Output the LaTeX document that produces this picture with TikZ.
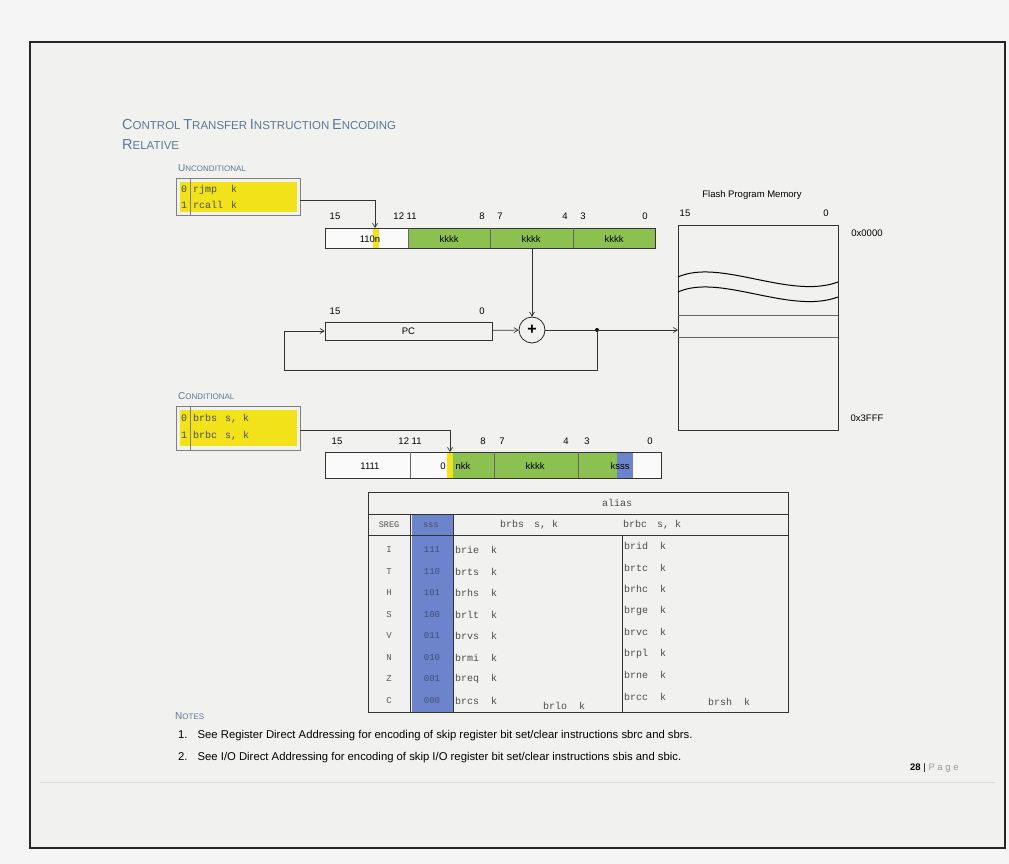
\documentclass[tikz,border=0pt]{standalone}
\usepackage{fontspec}
\setmainfont{Liberation Sans}
\newfontfamily\mono{Liberation Mono}
\usetikzlibrary{arrows.meta}
\definecolor{ttl}{HTML}{5A7896}
\definecolor{grn}{HTML}{8CC152}
\definecolor{ylw}{HTML}{F2E21A}
\definecolor{blu}{HTML}{6C84CC}
\definecolor{pg}{HTML}{F1F2F0}
\newcommand{\fsc}[2]{{\fontsize{14.5}{16}\selectfont #1}{\fontsize{11.5}{13}\selectfont #2}}
\newcommand{\ssc}[2]{{\fontsize{10}{11}\selectfont #1}{\fontsize{8}{9}\selectfont #2}}
\begin{document}
\begin{tikzpicture}[x=1pt,y=-1pt,
  lbl/.style={font=\fontsize{9.5}{11}\selectfont, inner sep=0pt},
  bx/.style={draw=black!80, line width=0.8pt},
  tx/.style={font=\mono\fontsize{10}{11}\selectfont, inner sep=0pt, anchor=west, text=black!70},
  ar/.style={-{Straight Barb[length=4pt,width=5pt]}, line width=0.7pt, draw=black!80}]
\useasboundingbox (0,0) rectangle (1009,864);
\fill[white!92!gray] (0,0) rectangle (1009,864);
\fill[pg] (30,42) rectangle (1005,848);
\draw[black!85, line width=1.5pt] (30,42) rectangle (1005,848);
% titles
\node[anchor=west,text=ttl,inner sep=0] (t1) at (122,125) {\fsc{C}{ONTROL} \fsc{T}{RANSFER} \fsc{I}{NSTRUCTION} \fsc{E}{NCODING}};
\node[anchor=west,text=ttl,inner sep=0] (t2) at (122,145) {\fsc{R}{ELATIVE}};
\node[anchor=west,text=ttl,inner sep=0] (t3) at (178,168) {\ssc{U}{NCONDITIONAL}};
\node[anchor=west,text=ttl,inner sep=0] (t4) at (178,396) {\ssc{C}{ONDITIONAL}};
% unconditional box
\fill[ylw] (180,182) rectangle (297,212);
\draw[black!50] (176,178) rectangle (300,215) (190,178) -- (190,215);
\node[tx] (u0) at (181,190) {0\hspace{6pt}rjmp\hspace{14pt}k};
\node[tx] (u1) at (181,205) {1\hspace{6pt}rcall\hspace{8pt}k};
\coordinate (ua) at (300,200);
% top encoding
\fill[white!96!gray] (325,228) rectangle (408,248);
\fill[grn] (408,228) rectangle (655,248);
\fill[ylw] (373,228) rectangle (379,248);
\draw[bx] (325,228) rectangle (655,248);
\draw[black!60] (408,228)--(408,248) (490,228)--(490,248) (573,228)--(573,248);
\node[lbl] at (370,239) {110n};
\node[lbl] at (449,239) {kkkk};
\node[lbl] at (531,239) {kkkk};
\node[lbl] at (614,239) {kkkk};
\foreach \x/\t in {335/15,405/12 11,482/8,500/7,565/4,583/3,645/0} \node[lbl] at (\x,216) {\t};
\coordinate (enc1) at (375,228);
\draw[ar] (ua) -| (enc1);
% PC and adder
\node[bx, minimum width=167pt, minimum height=18pt, inner sep=0, font=\fontsize{9.5}{11}\selectfont] (pc) at (408.5,331) {PC};
\node[lbl] at (335,311) {15};
\node[lbl] at (482,311) {0};
\node[draw=black!85, line width=0.8pt, circle, minimum size=26pt, inner sep=0, font=\fontsize{16}{16}\selectfont\bfseries] (plus) at (532,330) {+};
\coordinate (k) at (532,248);
\draw[ar] (k) -- (plus);
\draw[ar] (pc) -- (plus);
\coordinate (dot) at (597,330);
\fill (dot) circle (2pt);
% memory
\draw[bx] (678,225) rectangle (838,430);
\node[lbl] at (752,195) {Flash Program Memory};
\node[lbl] at (685,213) {15};
\node[lbl] at (826,213) {0};
\node[lbl] at (867,233) {0x0000};
\node[lbl] at (867,418) {0x3FFF};
\fill[pg] (679,277) .. controls (720,258) and (790,300) .. (837,282) -- (837,297) .. controls (790,315) and (720,273) .. (679,292) -- cycle;
\draw[line width=1pt] (678,277) .. controls (720,258) and (790,300) .. (838,282);
\draw[line width=1pt] (678,292) .. controls (720,273) and (790,315) .. (838,297);
\draw[black!60] (678,315)--(838,315) (678,337)--(838,337);
\coordinate (mem) at (678,330);
\draw[ar] (plus) -- (mem);
\coordinate (fb1) at (597,370);
\coordinate (fb2) at (284,370);
\draw[ar] (dot) -- (fb1) -- (fb2) |- (pc.west);
% conditional box
\fill[ylw] (180,410) rectangle (297,446);
\draw[black!50] (176,406) rectangle (300,450) (190,406) -- (190,450);
\node[tx] (c0) at (181,419) {0\hspace{6pt}brbs\hspace{8pt}s, k};
\node[tx] (c1) at (181,436) {1\hspace{6pt}brbc\hspace{8pt}s, k};
\coordinate (ca) at (300,430);
% bottom encoding
\fill[white!96!gray] (325,452) rectangle (661,478);
\fill[grn] (453,452) rectangle (633,478);
\fill[blu] (617,452) rectangle (633,478);
\fill[ylw] (447,452) rectangle (453,478);
\draw[bx] (325,452) rectangle (661,478);
\draw[black!60] (410,452)--(410,478) (494,452)--(494,478) (578,452)--(578,478);
\node[lbl] at (370,466) {1111};
\node[lbl] at (443,466) {0};
\node[lbl] at (463,466) {nkk};
\node[lbl] at (535,466) {kkkk};
\node[lbl] at (620,466) {ksss};
\foreach \x/\t in {337/15,410/12 11,483/8,502/7,566/4,587/3,650/0} \node[lbl] at (\x,441) {\t};
\coordinate (enc2) at (450,452);
\draw[ar] (ca) -| (enc2);
% table
\fill[blu] (412,514) rectangle (453,712);
\draw[bx] (368,492) rectangle (788,712);
\draw[black!80] (368,514)--(788,514) (368,535)--(788,535) (410,514)--(410,712) (453,514)--(453,712) (622,535)--(622,712);
\node[tx] at (602,503) {alias};
\node[font=\mono\fontsize{8.5}{9}\selectfont,text=black!70,inner sep=0] at (389,525) {SREG};
\node[font=\mono\fontsize{8.5}{9}\selectfont,text=black!70,inner sep=0] at (431,525) {sss};
\node[tx] at (500,525) {brbs\hspace{10pt}s, k};
\node[tx] at (623,525) {brbc\hspace{10pt}s, k};
\foreach \i/\s/\b/\l/\r in {0/I/111/brie/brid,1/T/110/brts/brtc,2/H/101/brhs/brhc,3/S/100/brlt/brge,4/V/011/brvs/brvc,5/N/010/brmi/brpl,6/Z/001/breq/brne,7/C/000/brcs/brcc}{
  \node[font=\mono\fontsize{9}{10}\selectfont,text=black!65,inner sep=0] at (389,{550+21.5*\i}) {\s};
  \node[font=\mono\fontsize{9}{10}\selectfont,text=blu!60!black,inner sep=0] at (432,{550+21.5*\i}) {\b};
  \node[tx] at (455,{550+21.5*\i}) {\l\hspace{12pt}k};
  \node[tx] at (624,{546+21.5*\i}) {\r\hspace{12pt}k};
}
\node[tx] at (543,706) {brlo\hspace{12pt}k};
\node[tx] at (708,702) {brsh\hspace{12pt}k};
% notes
\node[anchor=west,text=ttl,inner sep=0] (nt) at (175,716) {\ssc{N}{OTES}};
\node[anchor=west,inner sep=0,font=\fontsize{11.3}{13}\selectfont] (n1) at (178,736) {1.\hspace{10pt}See Register Direct Addressing for encoding of skip register bit set/clear instructions sbrc and sbrs.};
\node[anchor=west,inner sep=0,font=\fontsize{11.3}{13}\selectfont] (n2) at (178,758) {2.\hspace{10pt}See I/O Direct Addressing for encoding of skip I/O register bit set/clear instructions sbis and sbic.};
\node[anchor=west,inner sep=0,font=\fontsize{9.5}{11}\selectfont] (pgn) at (910,768) {\textbf{28} | \textcolor{black!40}{P a g e}};
\draw[black!15] (40,782) -- (995,782);
\end{tikzpicture}
\end{document}
